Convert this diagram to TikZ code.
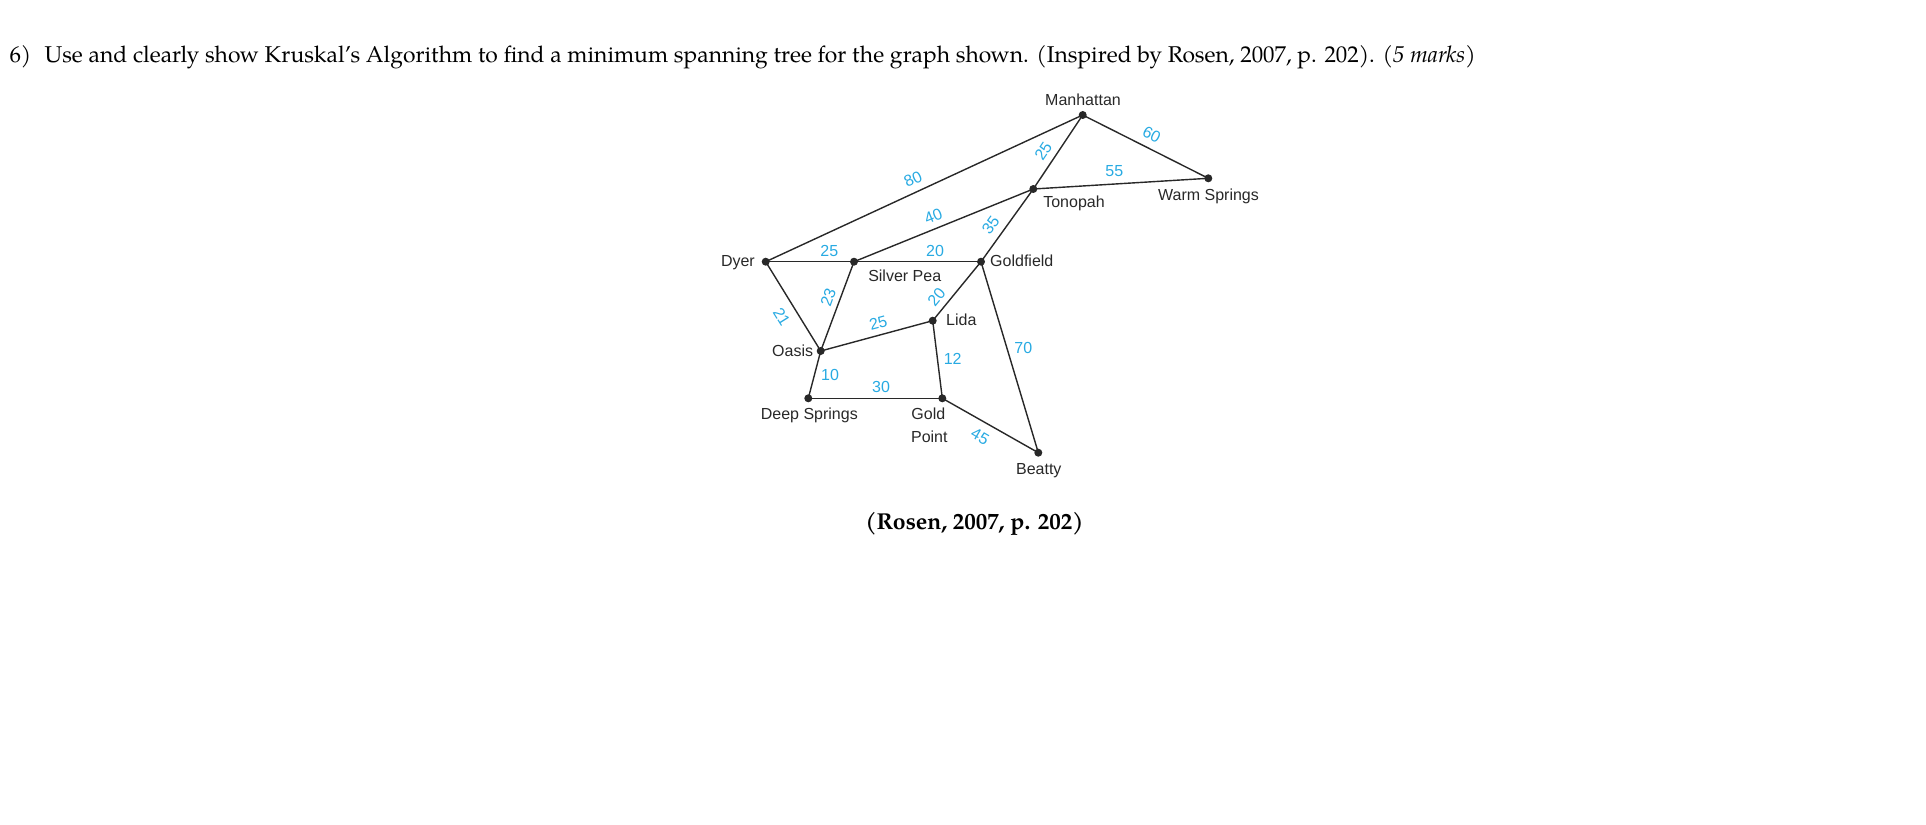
\documentclass[tikz,border=0pt]{standalone}
\usepackage{fontspec}
\setmainfont{TeX Gyre Pagella}
\newfontfamily\graphfont{Liberation Sans}
\definecolor{wcol}{RGB}{40,170,226}
\definecolor{lcol}{RGB}{40,40,40}
\begin{document}
\begin{tikzpicture}[x=1pt,y=-1pt,
  vtx/.style={circle,fill=lcol,inner sep=0pt,minimum size=8pt},
  edge/.style={draw=lcol,line width=1.4pt},
  vlab/.style={font=\graphfont\fontsize{16}{18}\selectfont,text=lcol,inner sep=0pt},
  wt/.style={font=\graphfont\fontsize{16}{18}\selectfont,text=wcol,inner sep=0pt},
  ttl/.style={font=\fontsize{22.85}{27}\selectfont,inner sep=0pt,anchor=base west}]
\useasboundingbox (0,0) rectangle (1926,824);
% title
\node[ttl] (num) at (9.3,62.3) {6)};
\node[ttl] (q) at (44.3,62.3) {Use and clearly show Kruskal’s Algorithm to find a minimum spanning tree for the graph shown. (Inspired by Rosen, 2007, p. 202). \textit{(5 marks)}};
% vertices
\node[vtx] (man) at (1082.7,115) {};
\node[vtx] (ws) at (1208.3,178.3) {};
\node[vtx] (ton) at (1033.3,189) {};
\node[vtx] (dy) at (765.7,261.7) {};
\node[vtx] (sp) at (854,261.7) {};
\node[vtx] (gf) at (981,261.7) {};
\node[vtx] (li) at (932.7,320.7) {};
\node[vtx] (oa) at (820.7,351) {};
\node[vtx] (ds) at (808.3,398.3) {};
\node[vtx] (gp) at (942.3,398.3) {};
\node[vtx] (be) at (1038.3,452.7) {};
% edges
\draw[edge] (dy.center) -- (man.center);
\draw[edge] (man.center) -- (ton.center);
\draw[edge] (man.center) -- (ws.center);
\draw[edge] (ton.center) -- (ws.center);
\draw[edge] (sp.center) -- (ton.center);
\draw[edge] (gf.center) -- (ton.center);
\draw[edge] (dy.center) -- (sp.center);
\draw[edge] (sp.center) -- (gf.center);
\draw[edge] (dy.center) -- (oa.center);
\draw[edge] (oa.center) -- (sp.center);
\draw[edge] (gf.center) -- (li.center);
\draw[edge] (oa.center) -- (li.center);
\draw[edge] (li.center) -- (gp.center);
\draw[edge] (gf.center) -- (be.center);
\draw[edge] (oa.center) -- (ds.center);
\draw[edge] (ds.center) -- (gp.center);
\draw[edge] (gp.center) -- (be.center);
% vertex labels
\node[vlab,anchor=base] (lman) at (1083,106) {Manhattan};
\node[vlab,anchor=base] (lton) at (1074,207) {Tonopah};
\node[vlab,anchor=base] (lws) at (1208.5,200) {Warm Springs};
\node[vlab,anchor=base east] (ldy) at (755,266.7) {Dyer};
\node[vlab,anchor=base] (lsp) at (904.7,281) {Silver Pea};
\node[vlab,anchor=base west] (lgf) at (990,266.7) {Goldfield};
\node[vlab,anchor=base west] (lli) at (946,325.7) {Lida};
\node[vlab,anchor=base east] (loa) at (813.3,356.7) {Oasis};
\node[vlab,anchor=base] (lds) at (809.3,419.3) {Deep Springs};
\node[vlab,anchor=base] (lgp1) at (928.3,419.3) {Gold};
\node[vlab,anchor=base] (lgp2) at (929.3,442.3) {Point};
\node[vlab,anchor=base] (lbe) at (1038.8,474) {Beatty};
% weights
\node[wt,rotate=24.8] (w80) at (913,179) {80};
\node[wt,rotate=56] (w25a) at (1043.3,151) {25};
\node[wt,rotate=-27] (w60) at (1151.7,135) {60};
\node[wt] (w55) at (1114.3,171) {55};
\node[wt,rotate=22] (w40) at (933.3,216) {40};
\node[wt,rotate=54] (w35) at (990.7,225) {35};
\node[wt] (w25b) at (829.3,251) {25};
\node[wt] (w20a) at (935,251) {20};
\node[wt,rotate=-58] (w21) at (781.7,316.7) {21};
\node[wt,rotate=70] (w23) at (828.3,297.3) {23};
\node[wt,rotate=51] (w20b) at (936.5,297) {20};
\node[wt,rotate=15] (w25c) at (878.3,323.3) {25};
\node[wt] (w12) at (952.7,359) {12};
\node[wt] (w70) at (1023.3,348.3) {70};
\node[wt] (w10) at (830,375) {10};
\node[wt] (w30) at (881,387.3) {30};
\node[wt,rotate=-30] (w45) at (980,436.7) {45};
% caption
\node[font=\bfseries\fontsize{23}{27}\selectfont,inner sep=0pt,anchor=base] (cap) at (974.5,529) {(Rosen, 2007, p. 202)};
\end{tikzpicture}
\end{document}
